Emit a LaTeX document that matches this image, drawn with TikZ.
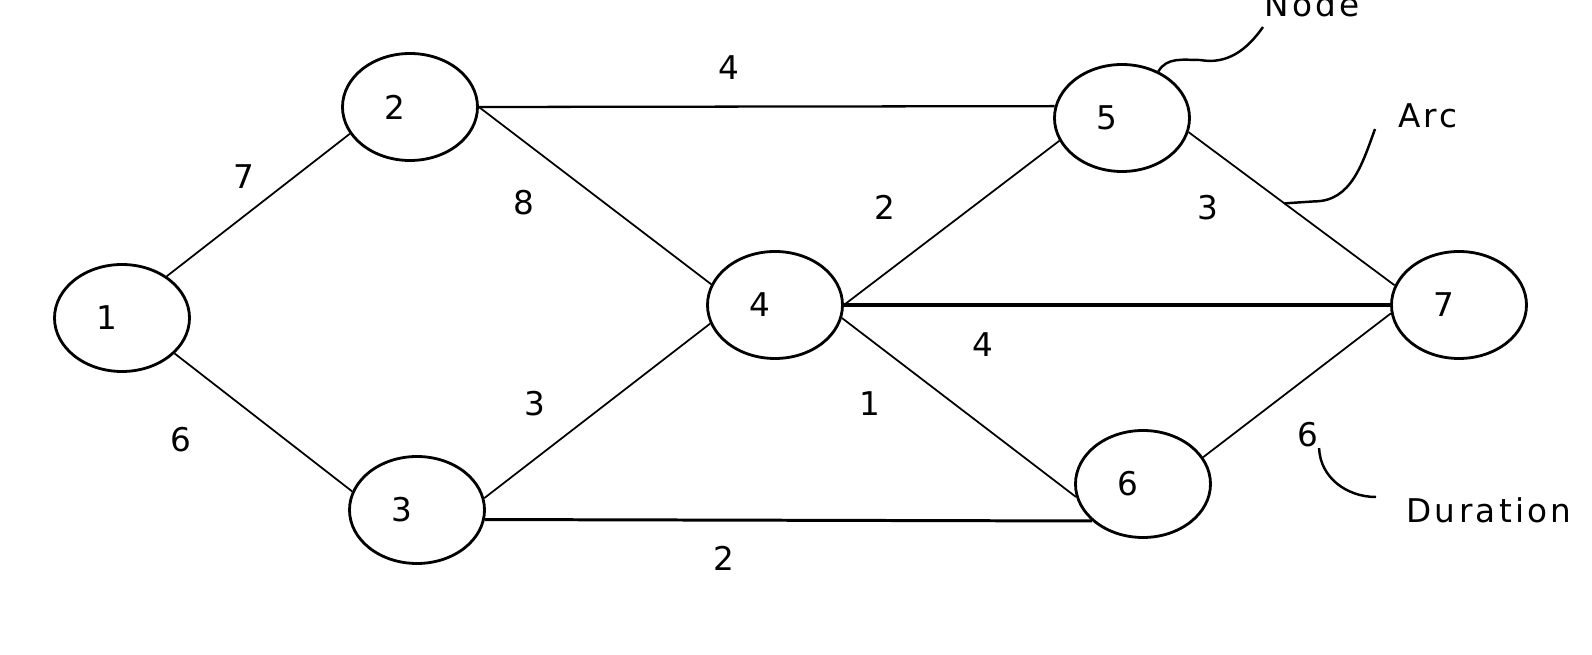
\documentclass[tikz,border=0pt]{standalone}
\usepackage{fontspec}
\setmainfont{DejaVu Sans}[LetterSpace=10]
\usetikzlibrary{shapes.geometric}
\tikzset{
  evt/.style={draw, ellipse, line width=0.8pt, minimum width=1.35cm, minimum height=1.07cm, inner sep=0pt, execute at begin node=\hspace*{-3mm}},
  wt/.style={inner sep=0pt},
  act/.style={line width=0.5pt},
  note/.style={line width=0.7pt},
}
\begin{document}
\begin{tikzpicture}[font=\fontsize{9.3}{11}\selectfont]
\useasboundingbox (0,0) rectangle (15.92,6.55);
% Events
\node[evt] (n1) at (1.22,3.37) {1};
\node[evt] (n2) at (4.10,5.48) {2};
\node[evt] (n3) at (4.17,1.45) {3};
\node[evt] (n4) at (7.75,3.50) {4};
\node[evt] (n5) at (11.22,5.37) {5};
\node[evt] (n6) at (11.43,1.71) {6};
\node[evt] (n7) at (14.59,3.50) {7};

% Activities
\draw[act] (n1.43) -- (n2.204);
\draw[act] (n1.-34) -- (n3.164);
\draw[act] (n2.east) -- (n4.162);
\draw[act, line width=0.65pt] (n2.east) -- (n5.170);
\draw[act] (n3.10) -- (n4.196);
\draw[act, line width=0.85pt] (n3.-8) -- (n6.216);
\draw[act] (n4.east) -- (n5.200);
\draw[act, line width=0.9pt] (n4.east) -- (n7.west);
\draw[act] (n4.-11) -- (n6.191);
\draw[act] (n5.-12) -- (n7.163) coordinate[pos=0.465] (arcfoot);
\draw[act] (n6.24) -- (n7.187);

% Durations
\node[wt] (d12) at (2.44,4.78) {7};
\node[wt] (d13) at (1.81,2.15) {6};
\node[wt] (d25) at (7.29,5.87) {4};
\node[wt] (d24) at (5.24,4.52) {8};
\node[wt] (d34) at (5.35,2.51) {3};
\node[wt] (d45) at (8.85,4.48) {2};
\node[wt] (d47) at (9.83,3.10) {4};
\node[wt] (d46) at (8.70,2.51) {1};
\node[wt] (d57) at (12.08,4.47) {3};
\node[wt] (d36) at (7.24,0.97) {2};

% Legend
\node[anchor=base] (lnode) at (13.12,6.38) {Node};
\node[anchor=base] (larc) at (14.28,5.27) {Arc};
\node[wt] (ldur) at (13.08,2.20) {6};
\node[anchor=base] (lduration) at (14.89,1.32) {Duration};
\coordinate (nodebend) at (12.0,5.95);
\coordinate (nodetip) at (12.63,6.28);
\coordinate (arctip) at (13.75,5.26);
\coordinate (durend) at (13.76,1.58);
\draw[note] (n5.52) to[out=60,in=180] (nodebend) to[out=-10,in=-125] (nodetip);
\draw[note] (arcfoot) -- ++(0.3,0.02) to[out=0,in=-110] (arctip);
\draw[note] (ldur.south east) to[out=-88,in=180] (durend);
\end{tikzpicture}
\end{document}
